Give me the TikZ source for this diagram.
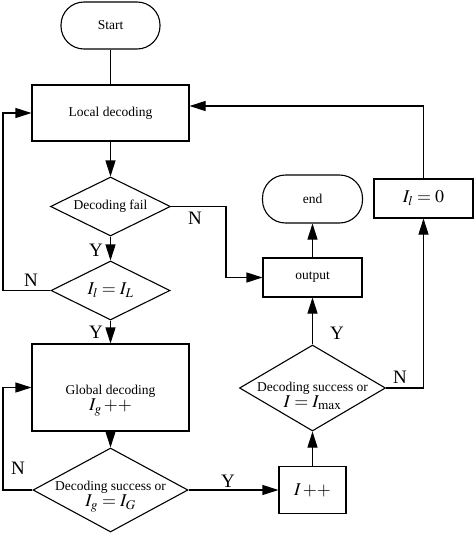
\documentclass[tikz,border=0pt]{standalone}
\usepackage{mathptmx}
\usepackage[no-math]{fontspec}
\setmainfont{Liberation Serif}
\usetikzlibrary{calc,shapes.geometric,arrows.meta}

\newcommand{\mathsz}{\fontsize{18}{20}\selectfont}

\begin{document}
\begin{tikzpicture}[x=1pt, y=-1pt, line width=1.1pt, black,
    font=\fontsize{13.5}{16}\selectfont,
    box/.style={draw, rectangle, inner sep=0pt},
    term/.style={box, rounded corners=23pt},
    cond/.style={draw, diamond, inner sep=0pt},
    flow/.style={-{Triangle[length=16pt,width=10pt]}},
    yn/.style={font=\fontsize{19}{20}\selectfont, inner sep=0pt}]

    \useasboundingbox (0,0) rectangle (474,536);

    %coordinates
    \coordinate (bendL) at (3,0); % left loops
    \coordinate (bendF) at (226,0); % fail -> output

    %left column
    \node[term, minimum width=99pt, minimum height=47pt] (start) at (110.5,25.5) {Start};
    \node[box, minimum width=157pt, minimum height=56pt] (loc) at (110.5,113) {Local decoding};
    \node[cond, minimum width=120pt, minimum height=59pt,
        label={center:Decoding fail}] (dfail) at (110.5,206.5) {};
    \node[cond, minimum width=119pt, minimum height=59pt,
        label={center:{\mathsz $I_l=I_L$}}] (ilL) at (110.5,290.5) {};
    \node[box, minimum width=157pt, minimum height=87pt,
        label={[align=center,yshift=-13pt]center:{Global decoding\\ \mathsz $I_g\,{+}{+}$}}] (gd) at (110.5,387.5) {};
    \node[cond, minimum width=155pt, minimum height=84pt,
        label={[align=center,yshift=-7pt]center:{Decoding success or\\ \mathsz $I_g=I_G$}}] (gs) at (110.5,490) {};

    %right column
    \node[term, minimum width=100pt, minimum height=48pt] (end) at (312.5,199) {end};
    \node[box, minimum width=99pt, minimum height=39pt] (out) at (312.5,277.5) {output};
    \node[cond, minimum width=146pt, minimum height=86pt,
        label={[align=center,yshift=-8pt]center:{Decoding success or\\ \mathsz $I=I_{\max}$}}] (ds) at (312.5,388) {};
    \node[box, minimum width=67pt, minimum height=47pt] (ipp) at (312.5,490) {\mathsz $I\,{+}{+}$};
    \node[box, minimum width=99pt, minimum height=39pt] (il0) at (423.5,198.5) {\mathsz $I_l=0$};

    %main flow
    \draw (start) -- (loc);
    \draw[flow] (loc) -- (dfail);
    \draw[flow] (dfail) -- (ilL);
    \draw[flow] (ilL) -- (gd);
    \draw[flow] (gd) -- (gs);
    \draw[flow] (gs) -- (ipp);
    \draw[flow] (ipp) -- (ds);
    \draw[flow] (ds) -- (out);
    \draw[flow] (out) -- (end);

    %loops
    \draw[flow] (dfail.east) -- (dfail.east -| bendF) |- (out.west);
    \draw[flow] (ds.east) -| (il0.south);
    \draw[flow] (il0.north) |- ([yshift=7pt]loc.east);
    \draw[flow] (ilL.west) -- (ilL.west -| bendL) |- (loc.west);
    \draw[flow] (gs.west) -- (gs.west -| bendL) |- (gd.west);

    %labels
    \node[yn] (nFail) at (195,218) {N};
    \node[yn] (yFail) at (96,250) {Y};
    \node[yn] (nIlL) at (31,280) {N};
    \node[yn] (yIlL) at (96,332) {Y};
    \node[yn] (nGs) at (18,468) {N};
    \node[yn] (yGs) at (228,481) {Y};
    \node[yn] (yDs) at (337,333) {Y};
    \node[yn] (nDs) at (400,377) {N};

\end{tikzpicture}
\end{document}
